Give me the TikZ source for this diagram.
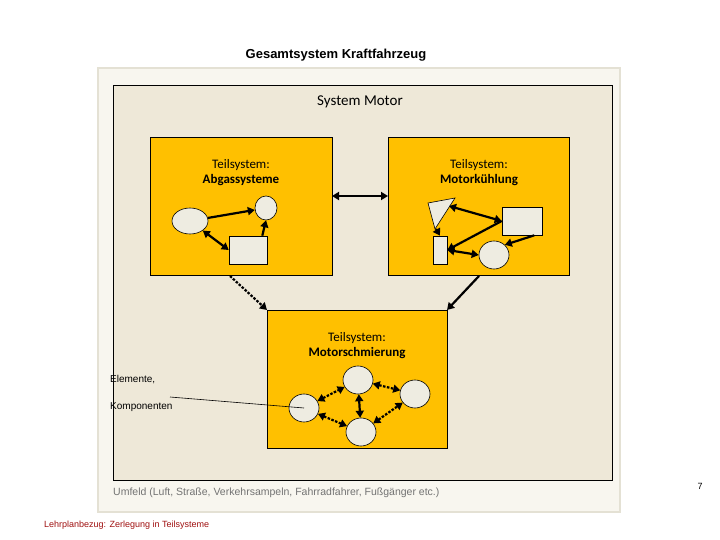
\documentclass[tikz,border=0pt]{standalone}
\usepackage{fontspec}
\setmainfont{Liberation Sans}
\newfontfamily\calfont{Carlito}
\usetikzlibrary{arrows.meta,shapes.geometric}
\definecolor{gold}{HTML}{FFC000}
\definecolor{beige}{HTML}{EEE8D8}
\definecolor{elem}{HTML}{EEECE1}
\definecolor{frameb}{HTML}{E4E1D4}
\definecolor{darkred}{HTML}{A01010}
\tikzset{
 sub/.style={draw=black,fill=gold,line width=0.8pt},
 el/.style={draw=black,fill=elem,line width=0.6pt},
 ar/.style={line width=2.2pt,-{Triangle[length=7pt,width=8pt]}},
 bar/.style={line width=2.2pt,{Triangle[length=7pt,width=8pt]}-{Triangle[length=7pt,width=8pt]}},
 dt/.style={dash pattern=on 2.5pt off 1.5pt},
 ttl/.style={font=\calfont\fontsize{13}{15}\selectfont,align=center}
}
\begin{document}
\begin{tikzpicture}[x=1pt,y=-1pt]
\useasboundingbox (0,0) rectangle (720,540);
\fill[white] (0,0) rectangle (720,540);
\node[font=\bfseries\fontsize{13}{15}\selectfont] (title) at (336,55) {Gesamtsystem Kraftfahrzeug};
\draw[frameb,fill=white!60!beige,line width=2.5pt] (98,68) rectangle (620,512);
\draw[black,fill=beige,line width=0.8pt] (113,85) rectangle (612,480);
\node[font=\calfont\fontsize{15}{17}\selectfont] (sm) at (360,102) {System Motor};
% subsystem boxes
\draw[sub] (150,137) rectangle (332,275);
\draw[sub] (388,137) rectangle (569,275);
\draw[sub] (267,310) rectangle (447,448);
\coordinate (Ar) at (332,196); \coordinate (Kl) at (388,196);
\coordinate (Ab) at (230,276); \coordinate (St) at (267,310);
\coordinate (Kb) at (479,276); \coordinate (Str) at (447,310);
\node[ttl] (ta) at (241,173) {Teilsystem:\\\textbf{Abgassysteme}};
\node[ttl] (tk) at (479,173) {Teilsystem:\\\textbf{Motorkühlung}};
\node[ttl] (ts) at (357,346) {Teilsystem:\\\textbf{Motorschmierung}};
\draw[bar] (Ar) -- (Kl);
\draw[ar,dt] (Ab) -- (St);
\draw[ar] (Kb) -- (Str);
% Abgas elements
\node[el,ellipse,minimum width=36pt,minimum height=26pt,inner sep=0] (a1) at (190,221) {};
\node[el,ellipse,minimum width=22pt,minimum height=24pt,inner sep=0] (a2) at (266,208) {};
\node[el,rectangle,minimum width=38pt,minimum height=28pt,inner sep=0] (a3) at (248,250) {};
\draw[ar] (a1) -- (a2);
\draw[ar] (a3.north east) ++(-5,0) -- (a2.south);
\draw[bar] (a1) -- (a3.west);
% Kuehlung elements
\draw[el] (428,203) -- (455,198) -- (435,229) -- cycle;
\node[el,rectangle,minimum width=40pt,minimum height=28pt,inner sep=0] (k1) at (522,221) {};
\node[el,rectangle,minimum width=14pt,minimum height=28pt,inner sep=0] (k2) at (440,250) {};
\node[el,ellipse,minimum width=30pt,minimum height=28pt,inner sep=0] (k3) at (494,255) {};
\draw[bar] (449,206) -- (k1.west);
\draw[ar] (436,229) -- (k2.north);
\draw[ar] (k1.west) -- (k2.east);
\draw[bar] (k2.east) -- (k3.west);
\draw[ar] (k1.south east) ++(-8,0) -- (k3.north east);
% Schmierung elements
\node[el,ellipse,minimum width=30pt,minimum height=28pt,inner sep=0] (s1) at (304,408) {};
\node[el,ellipse,minimum width=30pt,minimum height=28pt,inner sep=0] (s2) at (358,380) {};
\node[el,ellipse,minimum width=30pt,minimum height=28pt,inner sep=0] (s3) at (415,394) {};
\node[el,ellipse,minimum width=30pt,minimum height=28pt,inner sep=0] (s4) at (361,432) {};
\draw[bar,dt] (s1) -- (s2);
\draw[bar,dt] (s2) -- (s3);
\draw[bar] (s2) -- (s4);
\draw[bar,dt] (s1) -- (s4);
\draw[bar,dt] (s4) -- (s3);
% labels
\node[anchor=west,font=\fontsize{10}{12}\selectfont,inner sep=0] (e1) at (110,380) {Elemente,};
\node[anchor=west,font=\fontsize{10}{12}\selectfont,inner sep=0] (e2) at (110,407) {Komponenten};
\coordinate (lp) at (170,397);
\draw[line width=0.6pt] (lp) -- (s1.center);
\node[anchor=west,text=black!55,font=\fontsize{10.5}{12}\selectfont,inner sep=0] (um) at (113,493) {Umfeld (Luft, Straße, Verkehrsampeln, Fahrradfahrer, Fußgänger etc.)};
\node[anchor=west,text=darkred,font=\fontsize{9}{11}\selectfont,inner sep=0] (lp2) at (44,525) {Lehrplanbezug: Zerlegung in Teilsysteme};
\node[font=\fontsize{9}{11}\selectfont] (pg) at (700,486) {7};
\end{tikzpicture}
\end{document}
